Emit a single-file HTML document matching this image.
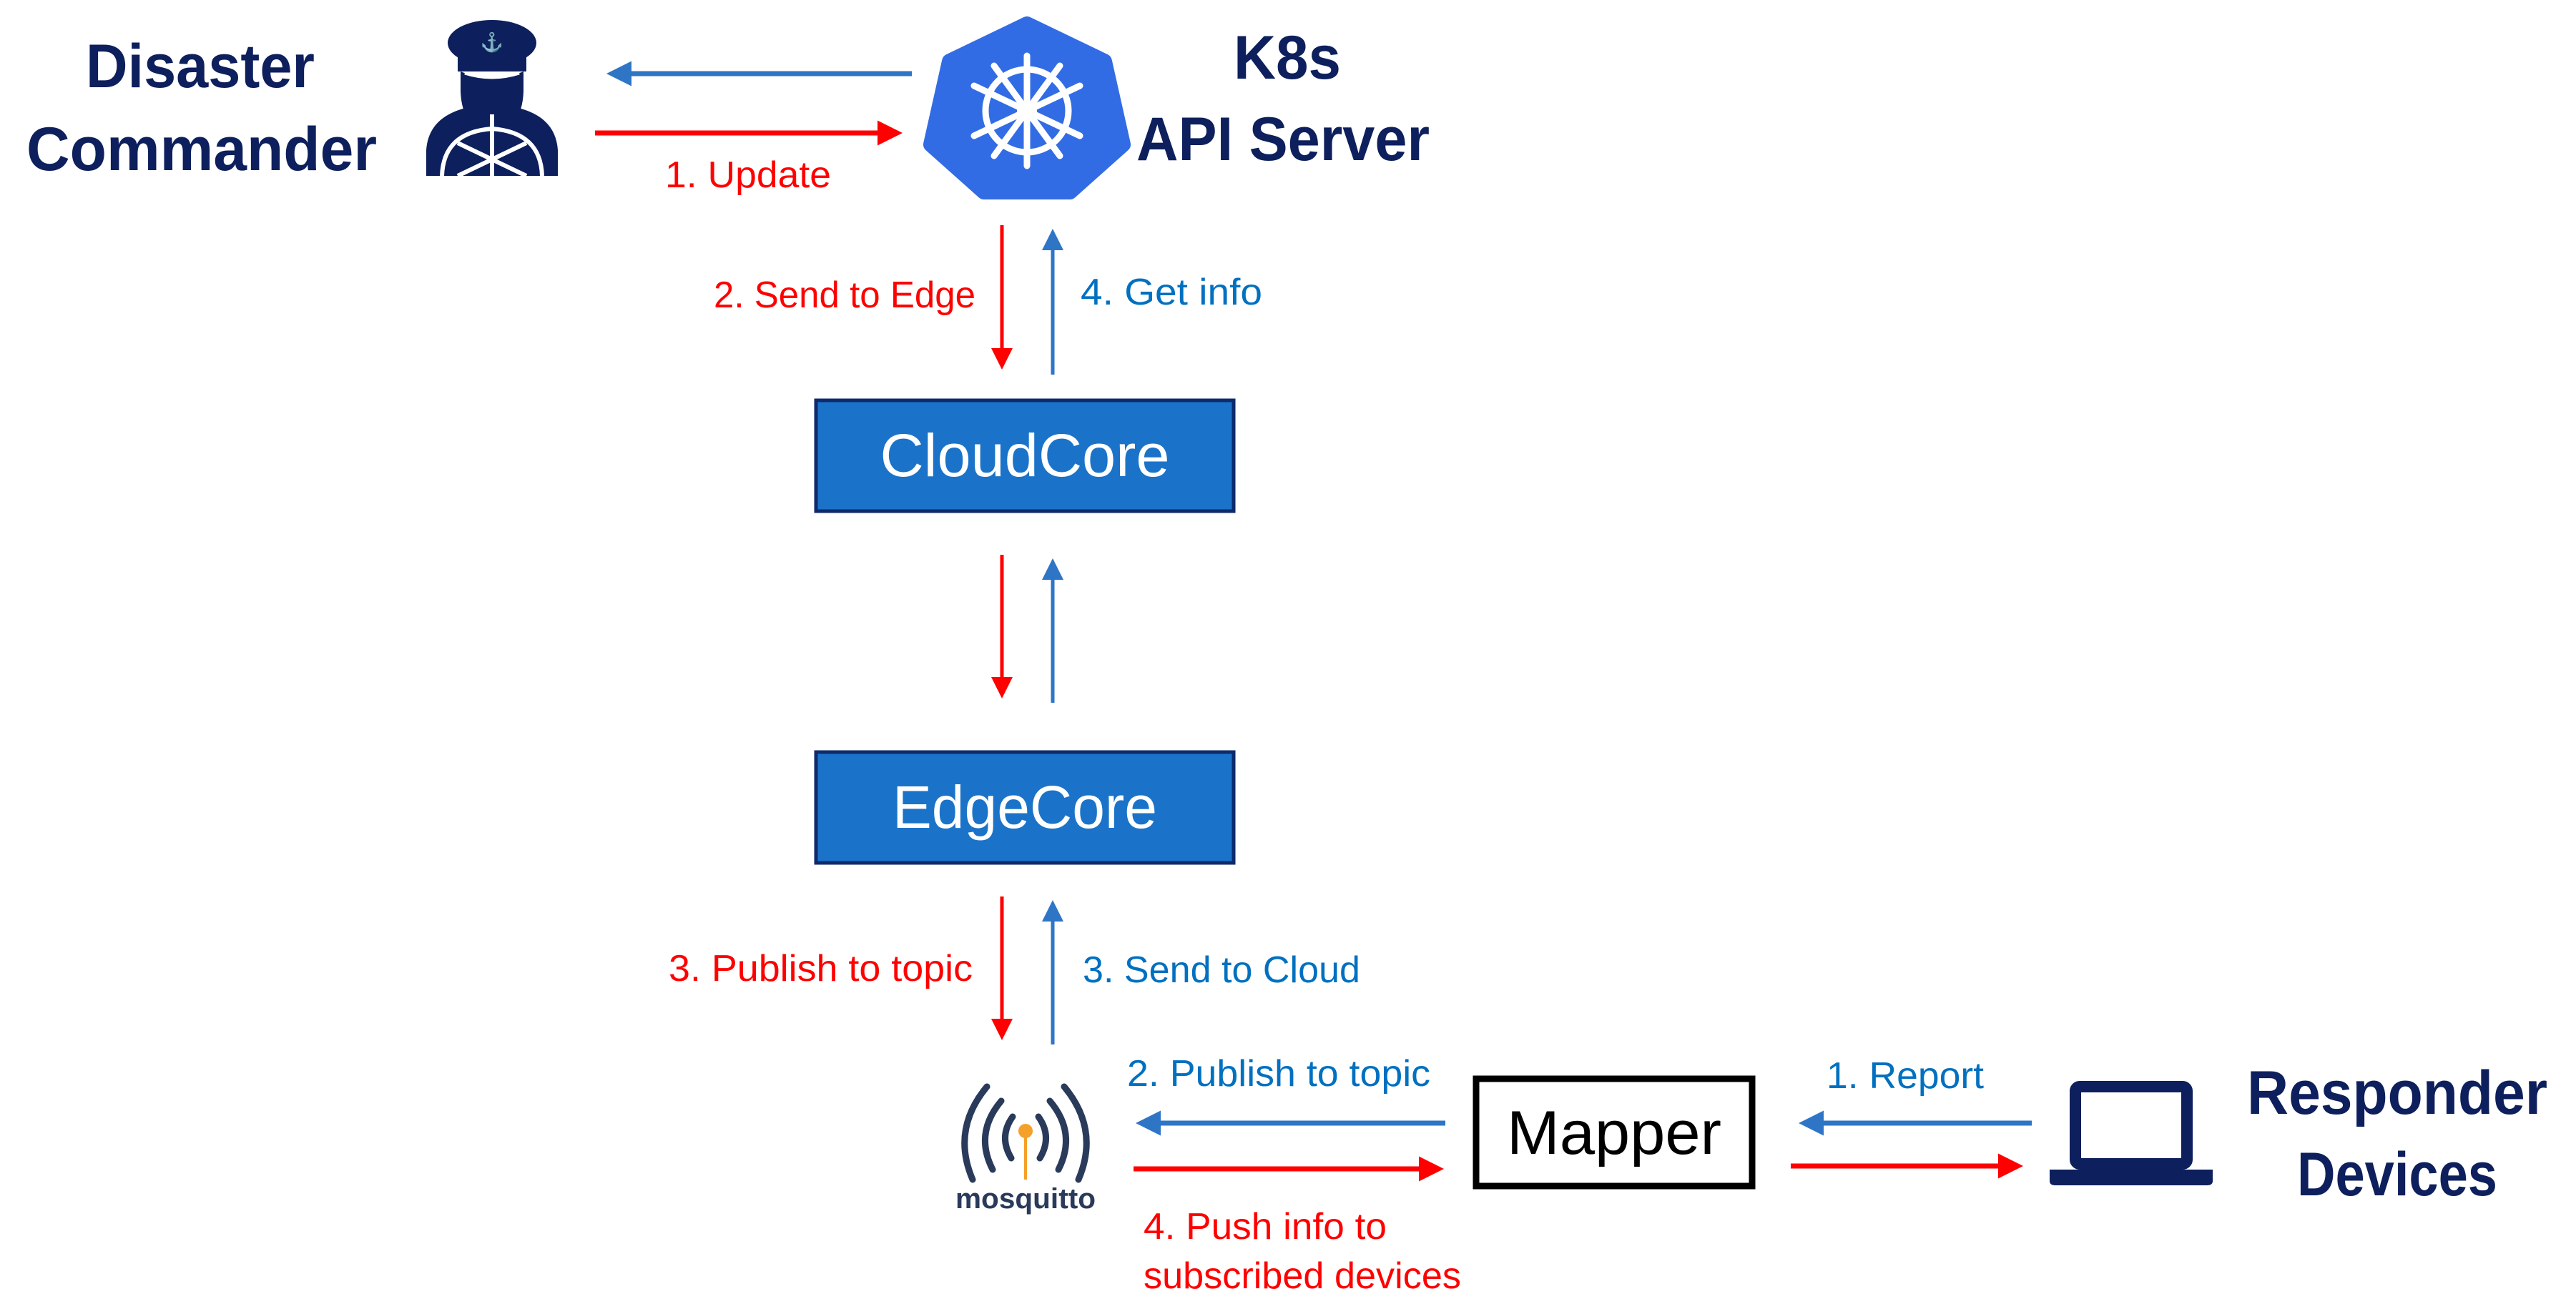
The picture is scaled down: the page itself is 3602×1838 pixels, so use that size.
<!DOCTYPE html>
<html><head><meta charset="utf-8"><style>
html,body{margin:0;padding:0;background:#fff;}
svg{display:block;}
text{font-family:"Liberation Sans",sans-serif;}
</style></head><body>
<svg width="3602" height="1838" viewBox="0 0 3602 1838" xmlns="http://www.w3.org/2000/svg">
<defs>
<marker id="ar" markerWidth="5" markerHeight="5" refX="4" refY="2.5" orient="auto" markerUnits="strokeWidth"><path d="M0,0 L5,2.5 L0,5 z" fill="#ff0000"/></marker>
<marker id="ab" markerWidth="5" markerHeight="5" refX="4" refY="2.5" orient="auto" markerUnits="strokeWidth"><path d="M0,0 L5,2.5 L0,5 z" fill="#2e75c6"/></marker>
<marker id="ar2" markerWidth="6" markerHeight="6" refX="5" refY="3" orient="auto" markerUnits="strokeWidth"><path d="M0,0 L6,3 L0,6 z" fill="#ff0000"/></marker>
<marker id="ab2" markerWidth="6" markerHeight="6" refX="5" refY="3" orient="auto" markerUnits="strokeWidth"><path d="M0,0 L6,3 L0,6 z" fill="#2e75c6"/></marker>
</defs>

<g fill="#0d1f5c" font-weight="bold" font-size="86" text-anchor="middle">
<text x="280" y="122" textLength="320" lengthAdjust="spacingAndGlyphs">Disaster</text>
<text x="282" y="238" textLength="490" lengthAdjust="spacingAndGlyphs">Commander</text>
<text x="1800" y="110" textLength="150" lengthAdjust="spacingAndGlyphs">K8s</text>
<text x="1794" y="224" textLength="410" lengthAdjust="spacingAndGlyphs">API Server</text>
<text x="3352" y="1558" textLength="420" lengthAdjust="spacingAndGlyphs">Responder</text>
<text x="3352" y="1672" textLength="280" lengthAdjust="spacingAndGlyphs">Devices</text>
</g>

<g fill="#0d1f5c">
<ellipse cx="688" cy="60" rx="62" ry="32"/>
<rect x="640" y="78" width="96" height="22"/>
<path d="M644,100 Q688,118 732,100 L732,128 Q730,180 688,190 Q646,180 644,128 z"/>
<path d="M596,246 L596,210 Q600,150 688,146 Q776,150 780,210 L780,246 z"/>
</g>
<path d="M650,102 Q688,114 726,102" stroke="#fff" stroke-width="5" fill="none"/>
<g stroke="#fff" stroke-width="6" fill="none">
<path d="M618,246 Q620,185 688,180 Q756,185 758,246"/>
<line x1="688" y1="160" x2="688" y2="246"/>
<line x1="640" y1="200" x2="736" y2="246"/>
<line x1="736" y1="200" x2="640" y2="246"/>
</g>
<text x="688" y="68" fill="#fff" font-size="26" text-anchor="middle">⚓</text>

<line x1="1275" y1="103" x2="855" y2="103" stroke="#2e75c6" stroke-width="7" marker-end="url(#ab)"/>
<line x1="832" y1="186" x2="1255" y2="186" stroke="#ff0000" stroke-width="7" marker-end="url(#ar)"/>
<text x="930" y="262" fill="#ff0000" font-size="52" textLength="232" lengthAdjust="spacingAndGlyphs">1. Update</text>

<polygon points="1436,34 1544,86 1570,202 1496,268 1376,268 1302,202 1328,86" fill="#326ce5" stroke="#326ce5" stroke-width="22" stroke-linejoin="round"/>
<g stroke="#fff" stroke-width="9" fill="none" stroke-linecap="round">
<circle cx="1436" cy="155" r="58"/>
<line x1="1436" y1="78" x2="1436" y2="232"/>
<line x1="1362" y1="120" x2="1510" y2="190"/>
<line x1="1510" y1="120" x2="1362" y2="190"/>
<line x1="1390" y1="218" x2="1482" y2="92"/>
<line x1="1482" y1="218" x2="1390" y2="92"/>
</g>
<circle cx="1436" cy="155" r="14" fill="#fff"/>

<line x1="1401" y1="315" x2="1401" y2="512" stroke="#ff0000" stroke-width="5" marker-end="url(#ar2)"/>
<line x1="1472" y1="524" x2="1472" y2="325" stroke="#2e75c6" stroke-width="5" marker-end="url(#ab2)"/>
<text x="1364" y="430" fill="#ff0000" font-size="52" text-anchor="end" textLength="366" lengthAdjust="spacingAndGlyphs">2. Send to Edge</text>
<text x="1511" y="426" fill="#0070c0" font-size="52" textLength="254" lengthAdjust="spacingAndGlyphs">4. Get info</text>

<rect x="1141" y="560" width="584" height="155" fill="#1a73c8" stroke="#0d2a6b" stroke-width="5"/>
<text x="1433" y="666" fill="#fff" font-size="84" text-anchor="middle" textLength="405" lengthAdjust="spacingAndGlyphs">CloudCore</text>

<line x1="1401" y1="776" x2="1401" y2="972" stroke="#ff0000" stroke-width="5" marker-end="url(#ar2)"/>
<line x1="1472" y1="983" x2="1472" y2="786" stroke="#2e75c6" stroke-width="5" marker-end="url(#ab2)"/>

<rect x="1141" y="1052" width="584" height="155" fill="#1a73c8" stroke="#0d2a6b" stroke-width="5"/>
<text x="1433" y="1158" fill="#fff" font-size="84" text-anchor="middle" textLength="370" lengthAdjust="spacingAndGlyphs">EdgeCore</text>

<line x1="1401" y1="1254" x2="1401" y2="1450" stroke="#ff0000" stroke-width="5" marker-end="url(#ar2)"/>
<line x1="1472" y1="1461" x2="1472" y2="1264" stroke="#2e75c6" stroke-width="5" marker-end="url(#ab2)"/>
<text x="1360" y="1372" fill="#ff0000" font-size="52" text-anchor="end" textLength="425" lengthAdjust="spacingAndGlyphs">3. Publish to topic</text>
<text x="1514" y="1374" fill="#0070c0" font-size="52" textLength="388" lengthAdjust="spacingAndGlyphs">3. Send to Cloud</text>

<g stroke="#2a3a5a" stroke-width="9" fill="none" stroke-linecap="round">
<path d="M1380,1520 Q1330,1580 1360,1650"/>
<path d="M1400,1540 Q1362,1585 1388,1636"/>
<path d="M1416,1562 Q1396,1590 1414,1620"/>
<path d="M1488,1520 Q1538,1580 1508,1650"/>
<path d="M1468,1540 Q1506,1585 1480,1636"/>
<path d="M1452,1562 Q1472,1590 1454,1620"/>
</g>
<circle cx="1434" cy="1582" r="10" fill="#f5a02a"/>
<line x1="1434" y1="1590" x2="1434" y2="1650" stroke="#f5a02a" stroke-width="4"/>
<text x="1434" y="1690" fill="#2a3a5a" font-size="40" font-weight="bold" text-anchor="middle" textLength="196" lengthAdjust="spacingAndGlyphs">mosquitto</text>

<line x1="2021" y1="1571" x2="1595" y2="1571" stroke="#2e75c6" stroke-width="7" marker-end="url(#ab)"/>
<line x1="1585" y1="1635" x2="2012" y2="1635" stroke="#ff0000" stroke-width="7" marker-end="url(#ar)"/>
<text x="1576" y="1519" fill="#0070c0" font-size="52" textLength="424" lengthAdjust="spacingAndGlyphs">2. Publish to topic</text>
<text x="1599" y="1733" fill="#ff0000" font-size="52" textLength="340" lengthAdjust="spacingAndGlyphs">4. Push info to</text>
<text x="1599" y="1802" fill="#ff0000" font-size="52" textLength="444" lengthAdjust="spacingAndGlyphs">subscribed devices</text>

<rect x="2064" y="1509" width="386" height="150" fill="#fff" stroke="#000" stroke-width="9"/>
<text x="2257" y="1614" fill="#000" font-size="86" text-anchor="middle" textLength="300" lengthAdjust="spacingAndGlyphs">Mapper</text>

<line x1="2841" y1="1571" x2="2522" y2="1571" stroke="#2e75c6" stroke-width="7" marker-end="url(#ab)"/>
<line x1="2504" y1="1631" x2="2822" y2="1631" stroke="#ff0000" stroke-width="7" marker-end="url(#ar)"/>
<text x="2554" y="1522" fill="#0070c0" font-size="52" textLength="220" lengthAdjust="spacingAndGlyphs">1. Report</text>

<rect x="2902" y="1520" width="156" height="108" rx="6" fill="none" stroke="#0d1f5c" stroke-width="16"/>
<path d="M2866,1636 L3094,1636 L3094,1652 Q3094,1658 3086,1658 L2874,1658 Q2866,1658 2866,1652 z" fill="#0d1f5c"/>
</svg>
</body></html>
